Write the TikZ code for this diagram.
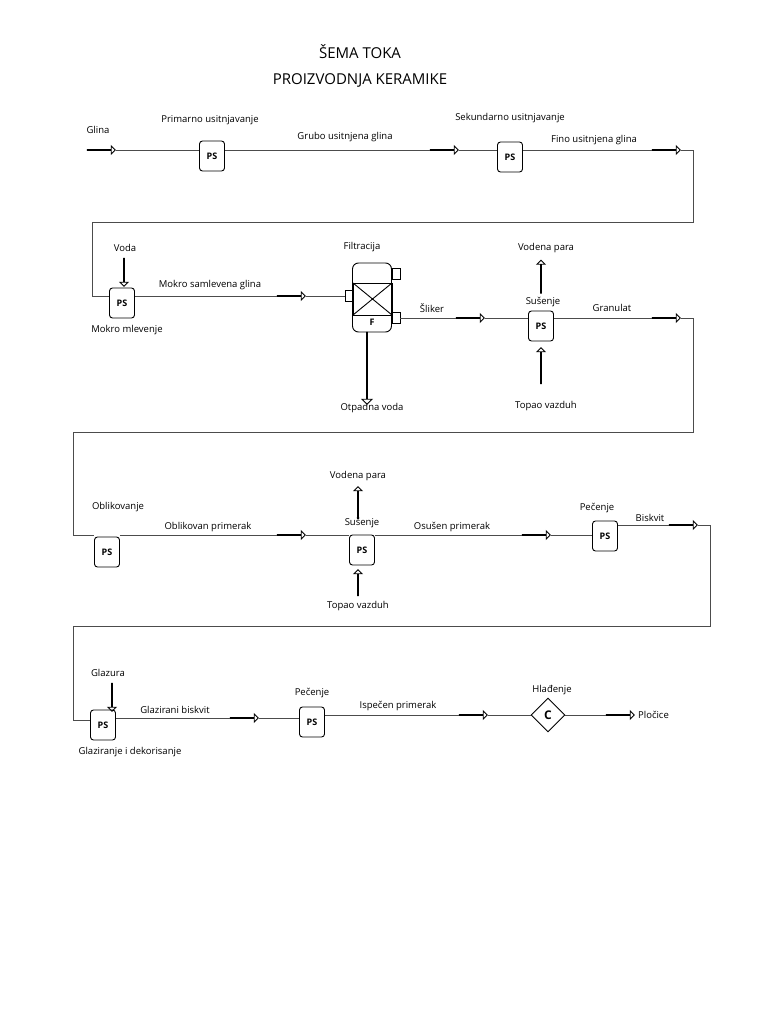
\documentclass[tikz,border=0pt]{standalone}
\usepackage{fontspec}
\setmainfont{Open Sans}
\usetikzlibrary{shapes.arrows,shapes.geometric}
\begin{document}
\begin{tikzpicture}[x=1pt,y=-1pt,
  ln/.style={draw=black!70,line width=0.7pt},
  ps/.style={draw,rounded corners=3pt,line width=0.9pt,minimum width=25pt,minimum height=30pt,inner sep=0,font=\bfseries\fontsize{9}{9}\selectfont},
  ha/.style={single arrow,draw,line width=0.9pt,inner sep=0,minimum height=28pt,minimum width=8pt,single arrow head extend=3pt,single arrow head indent=0pt},
  va/.style={ha,shape border rotate=90,minimum height=#1},
  da/.style={ha,shape border rotate=270,minimum height=#1},
  lb/.style={font=\fontsize{9.5}{10}\selectfont,inner sep=1pt}]
\useasboundingbox (0,0) rectangle (768,1024);
\node[font=\fontsize{15}{16}\selectfont] (t1) at (360,52) {ŠEMA TOKA};
\node[font=\fontsize{15}{16}\selectfont] (t2) at (360,80) {PROIZVODNJA KERAMIKE};
% row 1
\node[lb] (lglina) at (98,130) {Glina};
\node[ha] (a1) at (101,150) {};
\node[ps] (ps1) at (212,156) {PS};
\node[lb] at (210,120) {Primarno usitnjavanje};
\node[ha] (a2) at (444,150) {};
\node[lb] at (345,137) {Grubo usitnjena glina};
\node[ps] (ps2) at (510,157) {PS};
\node[lb] at (510,118) {Sekundarno usitnjavanje};
\node[ha] (a3) at (666,150) {};
\node[lb] at (594,140) {Fino usitnjena glina};
\coordinate (c1) at (693,150); \coordinate (c2) at (693,222);
\coordinate (c3) at (92,222); \coordinate (c4) at (92,296);
\draw[ln] (a1.east) -- (ps1.west|-a1.east);
\draw[ln] (ps1.east|-a2.west) -- (a2.west);
\draw[ln] (a2.east) -- (ps2.west|-a2.east);
\draw[ln] (ps2.east|-a3.west) -- (a3.west);
% row 2
\node[ps] (ps3) at (122,303) {PS};
\node[lb] at (125,248) {Voda};
\node[da=28pt] (av) at (124,272) {};
\node[lb] at (127,330) {Mokro mlevenje};
\draw[ln] (a3.east) -- (c1) -- (c2) -- (c3) -- (c4) -- (ps3.west|-c4);
\node[ha] (a4) at (291,296) {};
\node[lb] at (210,285) {Mokro samlevena glina};
\draw[ln] (ps3.east|-a4.west) -- (a4.west);
% filter
\node[draw,rounded corners=6pt,line width=0.9pt,minimum width=39pt,minimum height=69pt,inner sep=0] (flt) at (372,297.5) {};
\draw[line width=0.9pt] (353,283) rectangle (392,315);
\draw[line width=0.9pt] (353,283) -- (392,315) (353,315) -- (392,283);
\node[font=\bfseries\fontsize{9}{9}\selectfont] at (372,322) {F};
\node[draw,line width=0.9pt,minimum width=8pt,minimum height=11pt,inner sep=0] (nz1) at (396,274) {};
\node[draw,line width=0.9pt,minimum width=8pt,minimum height=11pt,inner sep=0] (nz2) at (349,296) {};
\node[draw,line width=0.9pt,minimum width=8pt,minimum height=11pt,inner sep=0] (nz3) at (396,318) {};
\node[lb] at (362,247) {Filtracija};
\draw[ln] (a4.east) -- (nz2.west);
\node[da=72pt,minimum width=10pt,single arrow head extend=4pt] (aov) at (367,368) {};
\node[lb] at (372,408) {Otpadna voda};
\node[ha] (a5) at (470,318) {};
\node[lb] at (432,308) {Šliker};
\draw[ln] (nz3.east) -- (a5.west);
\node[ps] (ps4) at (541,326) {PS};
\node[lb] at (543,302) {Sušenje};
\node[lb] at (546,248) {Vodena para};
\node[va=33pt] (avp1) at (541,277) {};
\node[lb] at (546,406) {Topao vazduh};
\node[va=36pt] (atv1) at (541,366) {};
\draw[ln] (a5.east) -- (ps4.west|-a5.east);
\node[ha] (a6) at (666,318) {};
\node[lb] at (612,308) {Granulat};
\draw[ln] (ps4.east|-a6.west) -- (a6.west);
\coordinate (d1) at (693,318); \coordinate (d2) at (693,432);
\coordinate (d3) at (73,432); \coordinate (d4) at (73,535);
% row 3
\node[ps] (ps5) at (107,552) {PS};
\node[lb] at (118,507) {Oblikovanje};
\draw[ln] (a6.east) -- (d1) -- (d2) -- (d3) -- (d4) -- (ps5.west|-d4);
\node[ha] (a7) at (291,535) {};
\node[lb] at (208,527) {Oblikovan primerak};
\draw[ln] (ps5.east|-a7.west) -- (a7.west);
\node[ps] (ps6) at (362,550) {PS};
\node[lb] at (362,523) {Sušenje};
\node[lb] at (358,476) {Vodena para};
\node[va=32pt] (avp2) at (358,503) {};
\node[lb] at (358,606) {Topao vazduh};
\node[va=26pt] (atv2) at (358,583) {};
\draw[ln] (a7.east) -- (ps6.west|-a7.east);
\node[ha] (a8) at (536,535) {};
\node[lb] at (452,527) {Osušen primerak};
\draw[ln] (ps6.east|-a8.west) -- (a8.west);
\node[ps] (ps7) at (605,536) {PS};
\node[lb] at (597,508) {Pečenje};
\draw[ln] (a8.east) -- (ps7.west|-a8.east);
\node[ha] (a9) at (683,525) {};
\node[lb] at (650,518) {Biskvit};
\draw[ln] (ps7.east|-a9.west) -- (a9.west);
\coordinate (e1) at (710,525); \coordinate (e2) at (710,626);
\coordinate (e3) at (73,626); \coordinate (e4) at (73,720);
% row 4
\node[ps] (ps8) at (103,725) {PS};
\node[lb] at (108,673) {Glazura};
\node[da=28pt] (agl) at (112,697) {};
\node[lb] at (130,752) {Glaziranje i dekorisanje};
\draw[ln] (a9.east) -- (e1) -- (e2) -- (e3) -- (e4) -- (ps8.west|-e4);
\node[ha] (a10) at (244,718) {};
\node[lb] at (175,710) {Glazirani biskvit};
\draw[ln] (ps8.east|-a10.west) -- (a10.west);
\node[ps] (ps9) at (312,722) {PS};
\node[lb] at (312,693) {Pečenje};
\draw[ln] (a10.east) -- (ps9.west|-a10.east);
\node[ha] (a11) at (473,715) {};
\node[lb] at (398,706) {Ispečen primerak};
\draw[ln] (ps9.east|-a11.west) -- (a11.west);
\node[diamond,draw,line width=0.9pt,minimum width=34pt,minimum height=34pt,inner sep=0,font=\bfseries\fontsize{12}{12}\selectfont] (dc) at (548,715) {C};
\node[lb] at (552,690) {Hlađenje};
\draw[ln] (a11.east) -- (dc.west);
\node[ha] (a12) at (620,715) {};
\node[lb,anchor=west] at (637,715) {Pločice};
\draw[ln] (dc.east) -- (a12.west);
\end{tikzpicture}
\end{document}
